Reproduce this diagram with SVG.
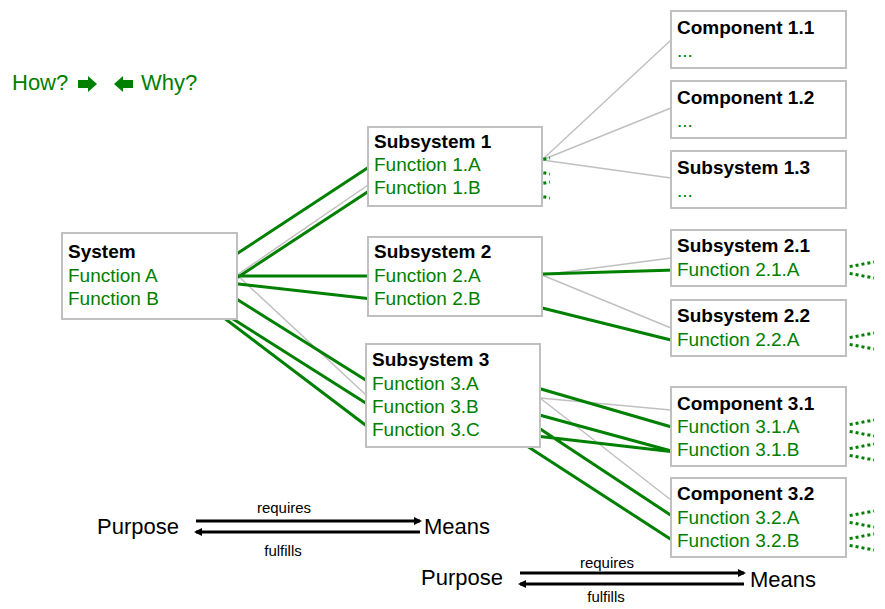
<svg xmlns="http://www.w3.org/2000/svg" width="885" height="609" viewBox="0 0 885 609">
<style>
.box{fill:#fff;stroke:#c0c0c0;stroke-width:2}
.t{font-family:"Liberation Sans",Arial,sans-serif;font-size:19px;font-weight:bold;fill:#000}
.f{font-family:"Liberation Sans",Arial,sans-serif;font-size:19px;fill:#008000}
.g{stroke:#c0c0c0;stroke-width:1.5;fill:none}
.e{stroke:#008000;stroke-width:3;fill:none}
.d{stroke:#008000;stroke-width:3;stroke-dasharray:3 3;fill:none}
.k{font-family:"Liberation Sans",Arial,sans-serif;fill:#000}
.a{stroke:#000;stroke-width:3;fill:none}
</style>
<defs>
<marker id="ah" markerWidth="8" markerHeight="8" refX="6" refY="4" orient="auto" markerUnits="userSpaceOnUse"><path d="M0,0 L8,4 L0,8 z" fill="#000"/></marker>
<g id="fan"><path class="d" d="M0,0 L42,-8 M0,0 L42,8"/></g>
</defs>
<rect width="885" height="609" fill="#fff"/>
<g id="howwhy">
<text x="12" y="90" class="f" style="font-size:22px">How?</text>
<path d="M78,80 h10 v-4 l9,8 l-9,8 v-4 h-10 z" fill="#008000"/>
<path d="M133,80 h-10 v-4 l-9,8 l9,8 v-4 h10 z" fill="#008000"/>
<text x="141" y="90" class="f" style="font-size:22px">Why?</text>
</g>
<g id="connectors">
<path class="g" d="M237,275 L368,185 M237,275 L366,395 M542,160 L671,40 M542,160 L671,108 M542,160 L671,178 M542,275 L671,258 M542,275 L671,328 M540,398 L671,410 M540,398 L671,500"/>
<path class="e" d="M203,276 L372,165 M203,276 L372,276 M203,280 L372,299 M203,278 L372,384 M203,300 L372,189 M203,300 L372,407 M203,302 L372,430"/>
<path class="e" d="M510,275 L675,270 M510,300 L675,341 M510,380 L675,428 M510,407 L675,452 M510,409 L675,518 M510,433 L675,452 M510,435 L675,542"/>
<use href="#fan" x="508" y="166"/><use href="#fan" x="508" y="190"/>
<use href="#fan" x="832" y="270"/><use href="#fan" x="832" y="341"/>
<use href="#fan" x="832" y="428"/><use href="#fan" x="832" y="452"/>
<use href="#fan" x="832" y="519"/><use href="#fan" x="832" y="542"/>
</g>
<g id="system"><rect class="box" x="62" y="233" width="175" height="86"/>
<text class="t" x="68" y="258">System</text><text class="f" x="68" y="282">Function A</text><text class="f" x="68" y="305">Function B</text></g>
<g id="sub1"><rect class="box" x="368" y="127" width="174" height="79"/>
<text class="t" x="374" y="148">Subsystem 1</text><text class="f" x="374" y="171">Function 1.A</text><text class="f" x="374" y="194">Function 1.B</text></g>
<g id="sub2"><rect class="box" x="368" y="237" width="174" height="79"/>
<text class="t" x="374" y="258">Subsystem 2</text><text class="f" x="374" y="282">Function 2.A</text><text class="f" x="374" y="305">Function 2.B</text></g>
<g id="sub3"><rect class="box" x="366" y="344" width="174" height="103"/>
<text class="t" x="372" y="366">Subsystem 3</text><text class="f" x="372" y="390">Function 3.A</text><text class="f" x="372" y="413">Function 3.B</text><text class="f" x="372" y="436">Function 3.C</text></g>
<g id="c11"><rect class="box" x="671" y="11" width="175" height="57"/>
<text class="t" x="677" y="34">Component 1.1</text><text class="f" x="677" y="57">...</text></g>
<g id="c12"><rect class="box" x="671" y="81" width="175" height="57"/>
<text class="t" x="677" y="104">Component 1.2</text><text class="f" x="677" y="127">...</text></g>
<g id="s13"><rect class="box" x="671" y="151" width="175" height="57"/>
<text class="t" x="677" y="174">Subsystem 1.3</text><text class="f" x="677" y="197">...</text></g>
<g id="s21"><rect class="box" x="671" y="230" width="175" height="56"/>
<text class="t" x="677" y="252">Subsystem 2.1</text><text class="f" x="677" y="276">Function 2.1.A</text></g>
<g id="s22"><rect class="box" x="671" y="300" width="175" height="56"/>
<text class="t" x="677" y="322">Subsystem 2.2</text><text class="f" x="677" y="346">Function 2.2.A</text></g>
<g id="c31"><rect class="box" x="671" y="387" width="175" height="79"/>
<text class="t" x="677" y="410">Component 3.1</text><text class="f" x="677" y="433">Function 3.1.A</text><text class="f" x="677" y="456">Function 3.1.B</text></g>
<g id="c32"><rect class="box" x="671" y="478" width="175" height="79"/>
<text class="t" x="677" y="500">Component 3.2</text><text class="f" x="677" y="524">Function 3.2.A</text><text class="f" x="677" y="547">Function 3.2.B</text></g>
<g id="legend1">
<text class="k" x="97" y="534" font-size="22">Purpose</text>
<text class="k" x="424" y="534" font-size="22">Means</text>
<path class="a" d="M196,521 H420" marker-end="url(#ah)"/>
<path class="a" d="M420,532 H196" marker-end="url(#ah)"/>
<text class="k" x="284" y="513" font-size="15" text-anchor="middle">requires</text>
<text class="k" x="283" y="556" font-size="15" text-anchor="middle">fulfills</text>
</g>
<g id="legend2">
<text class="k" x="421" y="585" font-size="22">Purpose</text>
<text class="k" x="750" y="587" font-size="22">Means</text>
<path class="a" d="M520,573 H744" marker-end="url(#ah)"/>
<path class="a" d="M744,584 H520" marker-end="url(#ah)"/>
<text class="k" x="607" y="568" font-size="15" text-anchor="middle">requires</text>
<text class="k" x="606" y="602" font-size="15" text-anchor="middle">fulfills</text>
</g>
</svg>
